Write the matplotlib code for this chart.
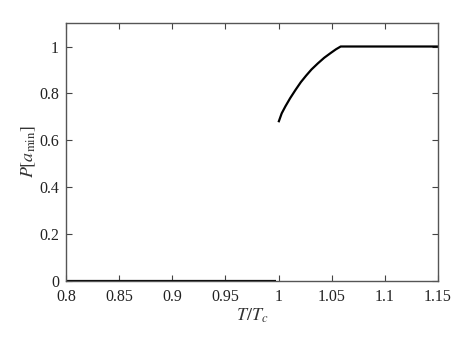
import numpy as np
import matplotlib
matplotlib.use("Agg")
import matplotlib.pyplot as plt

plt.rcParams['font.family'] = ['Liberation Serif', 'DejaVu Serif']
plt.rcParams['mathtext.fontset'] = 'stix'

# zero branch below T_c
t_low = [0.8, 0.9975]
p_low = [0.0, 0.0]

# branch above T_c
t_high = [1.0, 1.003, 1.0065, 1.011, 1.016, 1.021, 1.026, 1.031, 1.037,
          1.043, 1.049, 1.054, 1.0585, 1.15]
p_high = [0.677, 0.715, 0.745, 0.780, 0.815, 0.848, 0.876, 0.902, 0.928,
          0.952, 0.972, 0.988, 1.0, 1.0]

xticks = [0.8, 0.85, 0.9, 0.95, 1, 1.05, 1.1, 1.15]
xlabels = ["0.8", "0.85", "0.9", "0.95", "1", "1.05", "1.1", "1.15"]
yticks = [0, 0.2, 0.4, 0.6, 0.8, 1]
ylabels = ["0", "0.2", "0.4", "0.6", "0.8", "1"]

fig = plt.figure(figsize=(4.74, 3.44), dpi=100)
ax = fig.add_axes([0.139, 0.183, 0.785, 0.750])

ax.plot(t_low, p_low, color='black', linewidth=1.6, solid_capstyle='butt')
ax.plot(t_high, p_high, color='black', linewidth=1.6, solid_capstyle='butt',
        solid_joinstyle='round')

ax.set_xlim(0.8, 1.15)
ax.set_ylim(0, 1.1)
ax.set_xticks(xticks)
ax.set_xticklabels(xlabels)
ax.set_yticks(yticks)
ax.set_yticklabels(ylabels)
ax.tick_params(direction='in', top=True, right=True, length=4, width=0.8,
               colors='#444444', labelcolor='#222222', labelsize=11.5)
ax.tick_params(axis='x', pad=6)
ax.tick_params(axis='y', pad=5)
for s in ax.spines.values():
    s.set_color('#555555')
    s.set_linewidth(1.0)

ax.set_xlabel(r"$T/T_c$", fontsize=13, color='#333333', labelpad=1)
ax.set_ylabel(r"$P[a_{\min}]$", fontsize=13, color='#333333', labelpad=1)

fig.savefig("out.png", dpi=100)
